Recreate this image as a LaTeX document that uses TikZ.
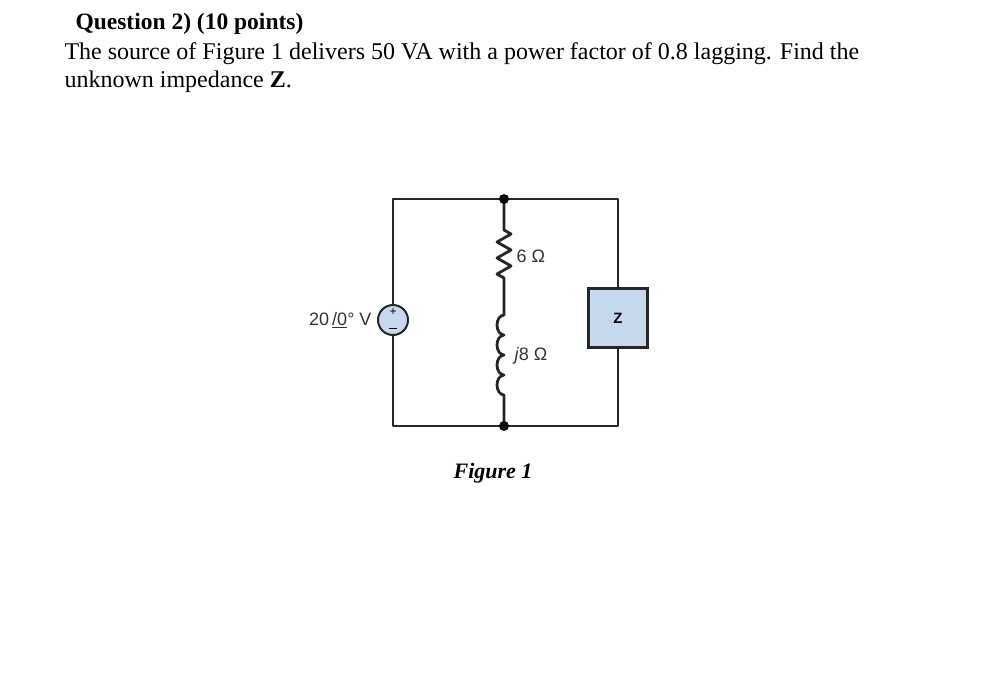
\documentclass[tikz,border=0pt]{standalone}
\usepackage{fontspec}
\setmainfont{Liberation Serif}
\newfontfamily\cirsf{Liberation Sans}
\definecolor{lb}{RGB}{200,216,236}
\begin{document}
\begin{tikzpicture}[x=1pt,y=-1pt,
  wire/.style={line width=2.8pt,line cap=round,line join=round,draw=black!85},
  lab/.style={font=\cirsf\fontsize{18}{20}\selectfont,text=black!80}]
\useasboundingbox (0,0) rectangle (1001,691);
\node[anchor=west,font=\bfseries\fontsize{23.5}{26}\selectfont] (t1) at (72,24) {Question 2) (10 points)};
\node[anchor=west,font=\fontsize{24}{26}\selectfont] (t2) at (61,54) {The source of Figure 1 delivers 50 VA with a power factor of 0.8 lagging. Find the};
\node[anchor=west,font=\fontsize{24}{26}\selectfont] (t3) at (61,82) {unknown impedance \textbf{Z}.};
% nodes
\coordinate (tl) at (393,199); \coordinate (tm) at (504,199); \coordinate (tr) at (618,199);
\coordinate (bl) at (393,426); \coordinate (bm) at (504,426); \coordinate (br) at (618,426);
\node[circle,draw=black!85,line width=2pt,fill=lb,minimum size=30pt,inner sep=0] (src) at (393,320) {};
\node[font=\cirsf\fontsize{12}{12}\selectfont] (plus) at (393,312) {+};
\draw[line width=1pt] (389,328) -- (397,328);
\node[draw=black!85,line width=2.6pt,fill=lb,minimum width=59pt,minimum height=59pt,font=\cirsf\bfseries\fontsize{15}{15}\selectfont] (Z) at (618,318) {Z};
\draw[wire] (src.north) -- (tl) -- (tr) -- (Z.north);
\draw[wire] (src.south) -- (bl) -- (br) -- (Z.south);
\draw[wire] (tm) -- (504,230) -- (511,234) -- (497,242) -- (511,250) -- (497,258) -- (511,266) -- (497,274) -- (504,278) -- (504,315);
\draw[wire] (504,315) arc[start angle=-90,end angle=-270,x radius=7,y radius=10]
  arc[start angle=-90,end angle=-270,x radius=7,y radius=10]
  arc[start angle=-90,end angle=-270,x radius=7,y radius=10]
  arc[start angle=-90,end angle=-270,x radius=7,y radius=10] -- (bm);
\fill (tm) circle (5pt); \fill (bm) circle (5pt);
\node[lab,anchor=west] (r) at (513,256) {6 Ω};
\node[lab,anchor=west] (l) at (511,356) {\textit{j}8 Ω};
\node[lab,anchor=east] (v) at (375,320) {20\,\underline{/0}° V};
\node[font=\bfseries\itshape\fontsize{22}{24}\selectfont] (f) at (493,473) {Figure 1};
\end{tikzpicture}
\end{document}
